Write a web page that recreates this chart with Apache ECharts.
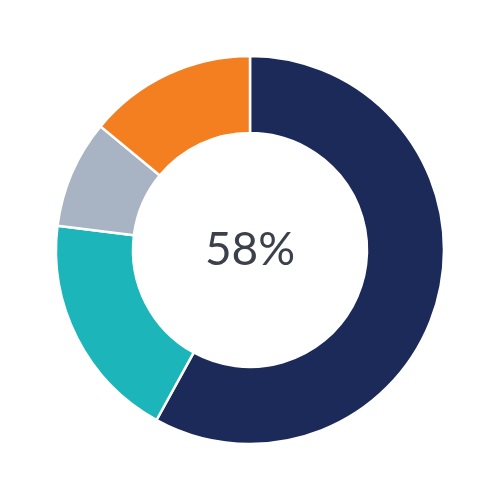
<!DOCTYPE html>
<html><head><meta charset="utf-8">
<script src="https://cdn.jsdelivr.net/npm/echarts@6/dist/echarts.min.js"></script>
<style>html,body{margin:0;padding:0;background:#fff}#c{width:500px;height:500px}</style>
</head><body><div id="c"></div>
<script>
const categories = ['A', 'B', 'C', 'D'];
const values = [58, 19, 9, 14];
const colors = ['#1c2a5a', '#1cb5b9', '#a8b3c3', '#f47f20'];
const centerLabel = '58%';

const chart = echarts.init(document.getElementById('c'), null, {renderer: 'canvas'});
chart.setOption({
  animation: false,
  color: colors,
  title: {
    text: centerLabel, left: 'center', top: 'middle',
    textStyle: {fontFamily: 'Lato', fontSize: 46, fontWeight: 'normal', color: '#3b404a'}
  },
  series: [{
    type: 'pie',
    center: [250, 250],
    radius: [117, 194],
    startAngle: 90,
    clockwise: true,
    label: {show: false},
    labelLine: {show: false},
    itemStyle: {borderColor: '#fff', borderWidth: 2.5},
    data: categories.map((c, i) => ({name: c, value: values[i]}))
  }]
});
</script></body></html>
